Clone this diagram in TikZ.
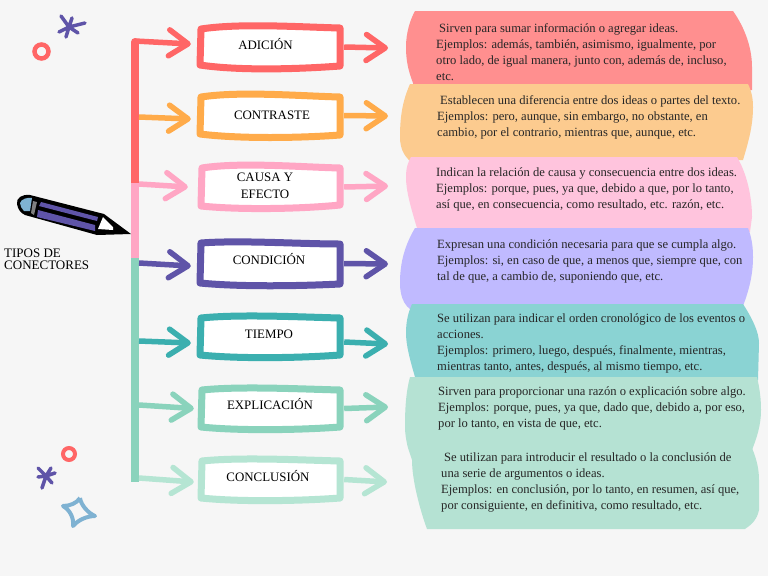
\documentclass[tikz,border=0pt]{standalone}
\usepackage{fontspec}
\setmainfont{Liberation Serif}
\usetikzlibrary{arrows.meta}
\definecolor{bgpage}{HTML}{F6F6F6}
\definecolor{conred}{HTML}{FF6666}
\definecolor{conorange}{HTML}{FFAB4A}
\definecolor{conpink}{HTML}{FFA6C4}
\definecolor{conpurple}{HTML}{5F54A8}
\definecolor{conteal}{HTML}{3BAFAF}
\definecolor{congreen}{HTML}{8AD3BC}
\definecolor{conmint}{HTML}{B5E5D3}
\definecolor{conblue}{HTML}{7FB2D2}
\definecolor{blobred}{HTML}{FF8F8F}
\definecolor{bloborange}{HTML}{FCCB8F}
\definecolor{blobpink}{HTML}{FFC4DD}
\definecolor{blobpurple}{HTML}{C0BAFF}
\definecolor{blobteal}{HTML}{8AD3D3}
\definecolor{blobgreen}{HTML}{B5E2D3}
\tikzset{
  arrowline/.style={line width=5.5pt, -{Straight Barb[round, length=19pt, width=26pt, line width=5.5pt]}},
  boxline/.style={line width=7pt, line join=round, fill=white},
  boxframe/.style={minimum width=148pt, minimum height=46pt, inner sep=0pt},
  boxlabel/.style={font=\fontsize{12.9}{17}\selectfont, align=center, inner sep=0pt},
  blobtext/.style={font=\fontsize{12.6}{16}\selectfont, align=left, anchor=north west, inner sep=0pt, text=black!85},
  spine/.style={line width=8pt},
  star/.style={line width=3.5pt, line cap=round, conpurple}
}
\begin{document}
\begin{tikzpicture}[x=1pt,y=-1pt]
\useasboundingbox[fill=bgpage] (0,0) rectangle (768,576);
%BLOBS
\fill[blobred] (415,11)--(733,11) .. controls (745,28) and (752,48) .. (752,67) -- (752,90)--(413,90) -- (413,83) .. controls (408,70) and (406,60) .. (406,47) .. controls (406,33) and (410,20) .. (415,11);
\fill[bloborange] (410,84)--(748,84) .. controls (752,92) and (753,100) .. (753,107) .. controls (753,125) and (749,140) .. (743,160)--(415,165) .. controls (405,158) and (400,150) .. (400,137) .. controls (400,115) and (403,100) .. (410,84);
\fill[blobpink] (411,157)--(737,157) .. controls (746,172) and (752,195) .. (752,217) -- (750,232)--(417,232) -- (417,228) .. controls (410,205) and (406,190) .. (406,177) .. controls (406,168) and (408,162) .. (411,157);
\fill[blobpurple] (415,228)--(748,228) .. controls (752,238) and (753,248) .. (753,257) .. controls (753,275) and (749,290) .. (743,306)--(420,314) .. controls (405,310) and (400,298) .. (400,283) .. controls (400,262) and (405,245) .. (415,228);
\fill[blobteal] (412,304)--(743,304) .. controls (752,318) and (759,332) .. (759,343) -- (758,380)--(415,380)--(415,377) .. controls (410,360) and (406,345) .. (406,333) .. controls (406,322) and (408,313) .. (412,304);
\fill[blobgreen] (410,377)--(757,377) .. controls (760,390) and (761,400) .. (761,410) .. controls (761,425) and (757,437) .. (752,450)--(408,448) .. controls (406,440) and (405,433) .. (405,427) .. controls (405,408) and (406,392) .. (410,377);
\fill[blobgreen] (408,448)--(752,448) .. controls (757,460) and (759,470) .. (759,480) -- (759,510) .. controls (757,520) and (751,525) .. (745,529) -- (427,529) .. controls (420,510) and (412,480) .. (412,460) -- (408,448);
\node[blobtext] (adiciontext) at (436,23) {\hspace*{3pt}Sirven para sumar información o agregar ideas.\\Ejemplos: además, también, asimismo, igualmente, por\\otro lado, de igual manera, junto con, además de, incluso,\\etc.};
\node[blobtext] (contrastetext) at (437,95) {\hspace*{3pt}Establecen una diferencia entre dos ideas o partes del texto.\\Ejemplos: pero, aunque, sin embargo, no obstante, en\\cambio, por el contrario, mientras que, aunque, etc.};
\node[blobtext] (causatext) at (436,168) {Indican la relación de causa y consecuencia entre dos ideas.\\Ejemplos: porque, pues, ya que, debido a que, por lo tanto,\\así que, en consecuencia, como resultado, etc. razón, etc.};
\node[blobtext] (condiciontext) at (437,240) {Expresan una condición necesaria para que se cumpla algo.\\Ejemplos: si, en caso de que, a menos que, siempre que, con\\tal de que, a cambio de, suponiendo que, etc.};
\node[blobtext] (tiempotext) at (437,314) {Se utilizan para indicar el orden cronológico de los eventos o\\acciones.\\Ejemplos: primero, luego, después, finalmente, mientras,\\mientras tanto, antes, después, al mismo tiempo, etc.};
\node[blobtext] (explicaciontext) at (438,387) {Sirven para proporcionar una razón o explicación sobre algo.\\Ejemplos: porque, pues, ya que, dado que, debido a, por eso,\\por lo tanto, en vista de que, etc.};
\node[blobtext] (conclusiontext) at (441,453) {\hspace*{3pt}Se utilizan para introducir el resultado o la conclusión de\\una serie de argumentos o ideas.\\Ejemplos: en conclusión, por lo tanto, en resumen, así que,\\por consiguiente, en definitiva, como resultado, etc.};
%SPINE
\coordinate (spinetop) at (135,42);
\coordinate (spinepink) at (135,183);
\coordinate (spineteal) at (135,258);
\coordinate (spinebot) at (135,482);
\coordinate (adicionfrom) at (135,41);
\coordinate (contrastefrom) at (139,117);
\coordinate (causafrom) at (139,184);
\coordinate (condicionfrom) at (139,263);
\coordinate (tiempofrom) at (139,341);
\coordinate (explicacionfrom) at (139,405);
\coordinate (conclusionfrom) at (139,478);
\draw[spine, conred, line cap=round] (spinetop)--(spinepink);
\draw[spine, conpink] (spinepink)--(spineteal);
\draw[spine, congreen] (spineteal)--(spinebot);
%BOXES
\draw[boxline, draw=conred] (201,29) .. controls (240,23) and (300,27) .. (340,28) -- (340,66) .. controls (300,69) and (240,71) .. (200,65) -- cycle;
\draw[boxline, draw=conorange] (201,97) .. controls (240,91) and (300,96) .. (340,97) -- (340,135) .. controls (300,138) and (240,139) .. (200,134) -- cycle;
\draw[boxline, draw=conpink] (202,168) .. controls (240,162) and (300,167) .. (340,168) -- (340,205) .. controls (300,209) and (240,210) .. (201,206) -- cycle;
\draw[boxline, draw=conpurple] (201,243) .. controls (240,240) and (300,244) .. (340,244) -- (340,284) .. controls (300,286) and (240,287) .. (200,283) -- cycle;
\draw[boxline, draw=conteal] (201,318) .. controls (240,314) and (300,317) .. (340,318) -- (340,355) .. controls (300,358) and (240,359) .. (200,355) -- cycle;
\draw[boxline, draw=congreen] (202,390) .. controls (240,386) and (300,389) .. (340,390) -- (340,427) .. controls (300,430) and (240,431) .. (201,427) -- cycle;
\draw[boxline, draw=conmint] (202,461) .. controls (240,457) and (300,460) .. (340,461) -- (340,498) .. controls (300,501) and (240,502) .. (201,498) -- cycle;
\node[boxframe] (adicion) at (270,47) {};
\node[boxframe] (contraste) at (270,115.5) {};
\node[boxframe] (causa) at (270,187) {};
\node[boxframe] (condicion) at (270,263.5) {};
\node[boxframe] (tiempo) at (270,336.5) {};
\node[boxframe] (explicacion) at (270,408.5) {};
\node[boxframe] (conclusion) at (270,479.5) {};
\node[boxlabel] (adicionlabel) at (265.5,44.5) {ADICIÓN};
\node[boxlabel] (contrastelabel) at (272,115.5) {CONTRASTE};
\node[boxlabel] (causalabel) at (265,186) {CAUSA Y\\EFECTO};
\node[boxlabel] (condicionlabel) at (269,259) {CONDICIÓN};
\node[boxlabel] (tiempolabel) at (269,334.5) {TIEMPO};
\node[boxlabel] (explicacionlabel) at (270,404.5) {EXPLICACIÓN};
\node[boxlabel] (conclusionlabel) at (268,476.5) {CONCLUSIÓN};
%LEFT ARROWS
\draw[arrowline, conred] (adicionfrom)--([yshift=3pt,xshift=-5pt]adicion.west);
\draw[arrowline, conorange] (contrastefrom)--([yshift=-3.5pt,xshift=-5pt]contraste.west);
\draw[arrowline, conpink] (causafrom)--([xshift=-8pt]causa.west);
\draw[arrowline, conpurple] (condicionfrom)--([yshift=-2.5pt,xshift=-5pt]condicion.west);
\draw[arrowline, conteal] (tiempofrom)--([yshift=-6.5pt,xshift=-5pt]tiempo.west);
\draw[arrowline, congreen] (explicacionfrom)--([xshift=-2pt]explicacion.west);
\draw[arrowline, conmint] (conclusionfrom)--([yshift=-2.5pt,xshift=-2pt]conclusion.west);
%RIGHT ARROWS
\coordinate (adicionend) at (388,48);
\coordinate (contrasteend) at (388,116);
\coordinate (causaend) at (388,186);
\coordinate (condicionend) at (388,264);
\coordinate (tiempoend) at (388,344);
\coordinate (explicacionend) at (388,407);
\coordinate (conclusionend) at (387,482);
\draw[arrowline, conred] (adicion.east)--(adicionend);
\draw[arrowline, conorange] (contraste.east)--(contrasteend);
\draw[arrowline, conpink] (causa.east)--(causaend);
\draw[arrowline, conpurple] (condicion.east)--(condicionend);
\draw[arrowline, conteal] ([yshift=-5.5pt]tiempo.east)--(tiempoend);
\draw[arrowline, congreen] (explicacion.east)--(explicacionend);
\draw[arrowline, conmint] (conclusion.east)--(conclusionend);
%PENCIL
\fill[black] (30,195) .. controls (22,194) and (16,198) .. (17,204) .. controls (18,210) and (21,213) .. (25,215)--(97,235)--(131,234)--(104,214)--cycle;
\fill[conblue] (20,203) .. controls (21,199) and (28,197) .. (32,198)--(30,211)--(24,211) .. controls (22,209) and (20,206) .. (20,203);
\fill[gray] (33,201)--(37,202)--(34,215)--(31,213)--cycle;
\fill[conpurple] (41,202)--(98,217)--(97,221)--(39,206)--cycle;
\fill[conpurple] (38,210)--(95,225)--(95,231)--(37,217)--cycle;
\fill[white] (103,217)--(113,227)--(113,230)--(98,229)--cycle;
\node[font=\fontsize{13}{12}\selectfont, align=left, anchor=north west, inner sep=0pt] (title) at (4,248.5) {TIPOS DE\\CONECTORES};
%DOODLES
\draw[conred, line width=4.5pt] (41.5,51.5) circle (7);
\draw[star] (61,16)--(69,27)--(85,23) (72,18)--(69,27)--(78,33) (59,32)--(69,27)--(66,37);
\draw[conred, line width=4pt] (69,454) circle (6);
\draw[star] (38,468)--(46,476)--(51,468) (55,473)--(46,476)--(52,483) (42,488)--(46,476)--(38,477);
\draw[conblue, line width=4pt, line join=round, fill=bgpage] (80,498) .. controls (81,505) and (88,513) .. (95,516) .. controls (87,516) and (78,520) .. (73,526) .. controls (74,518) and (70,510) .. (63,506) .. controls (70,506) and (77,503) .. (80,498);
\end{tikzpicture}
\end{document}
